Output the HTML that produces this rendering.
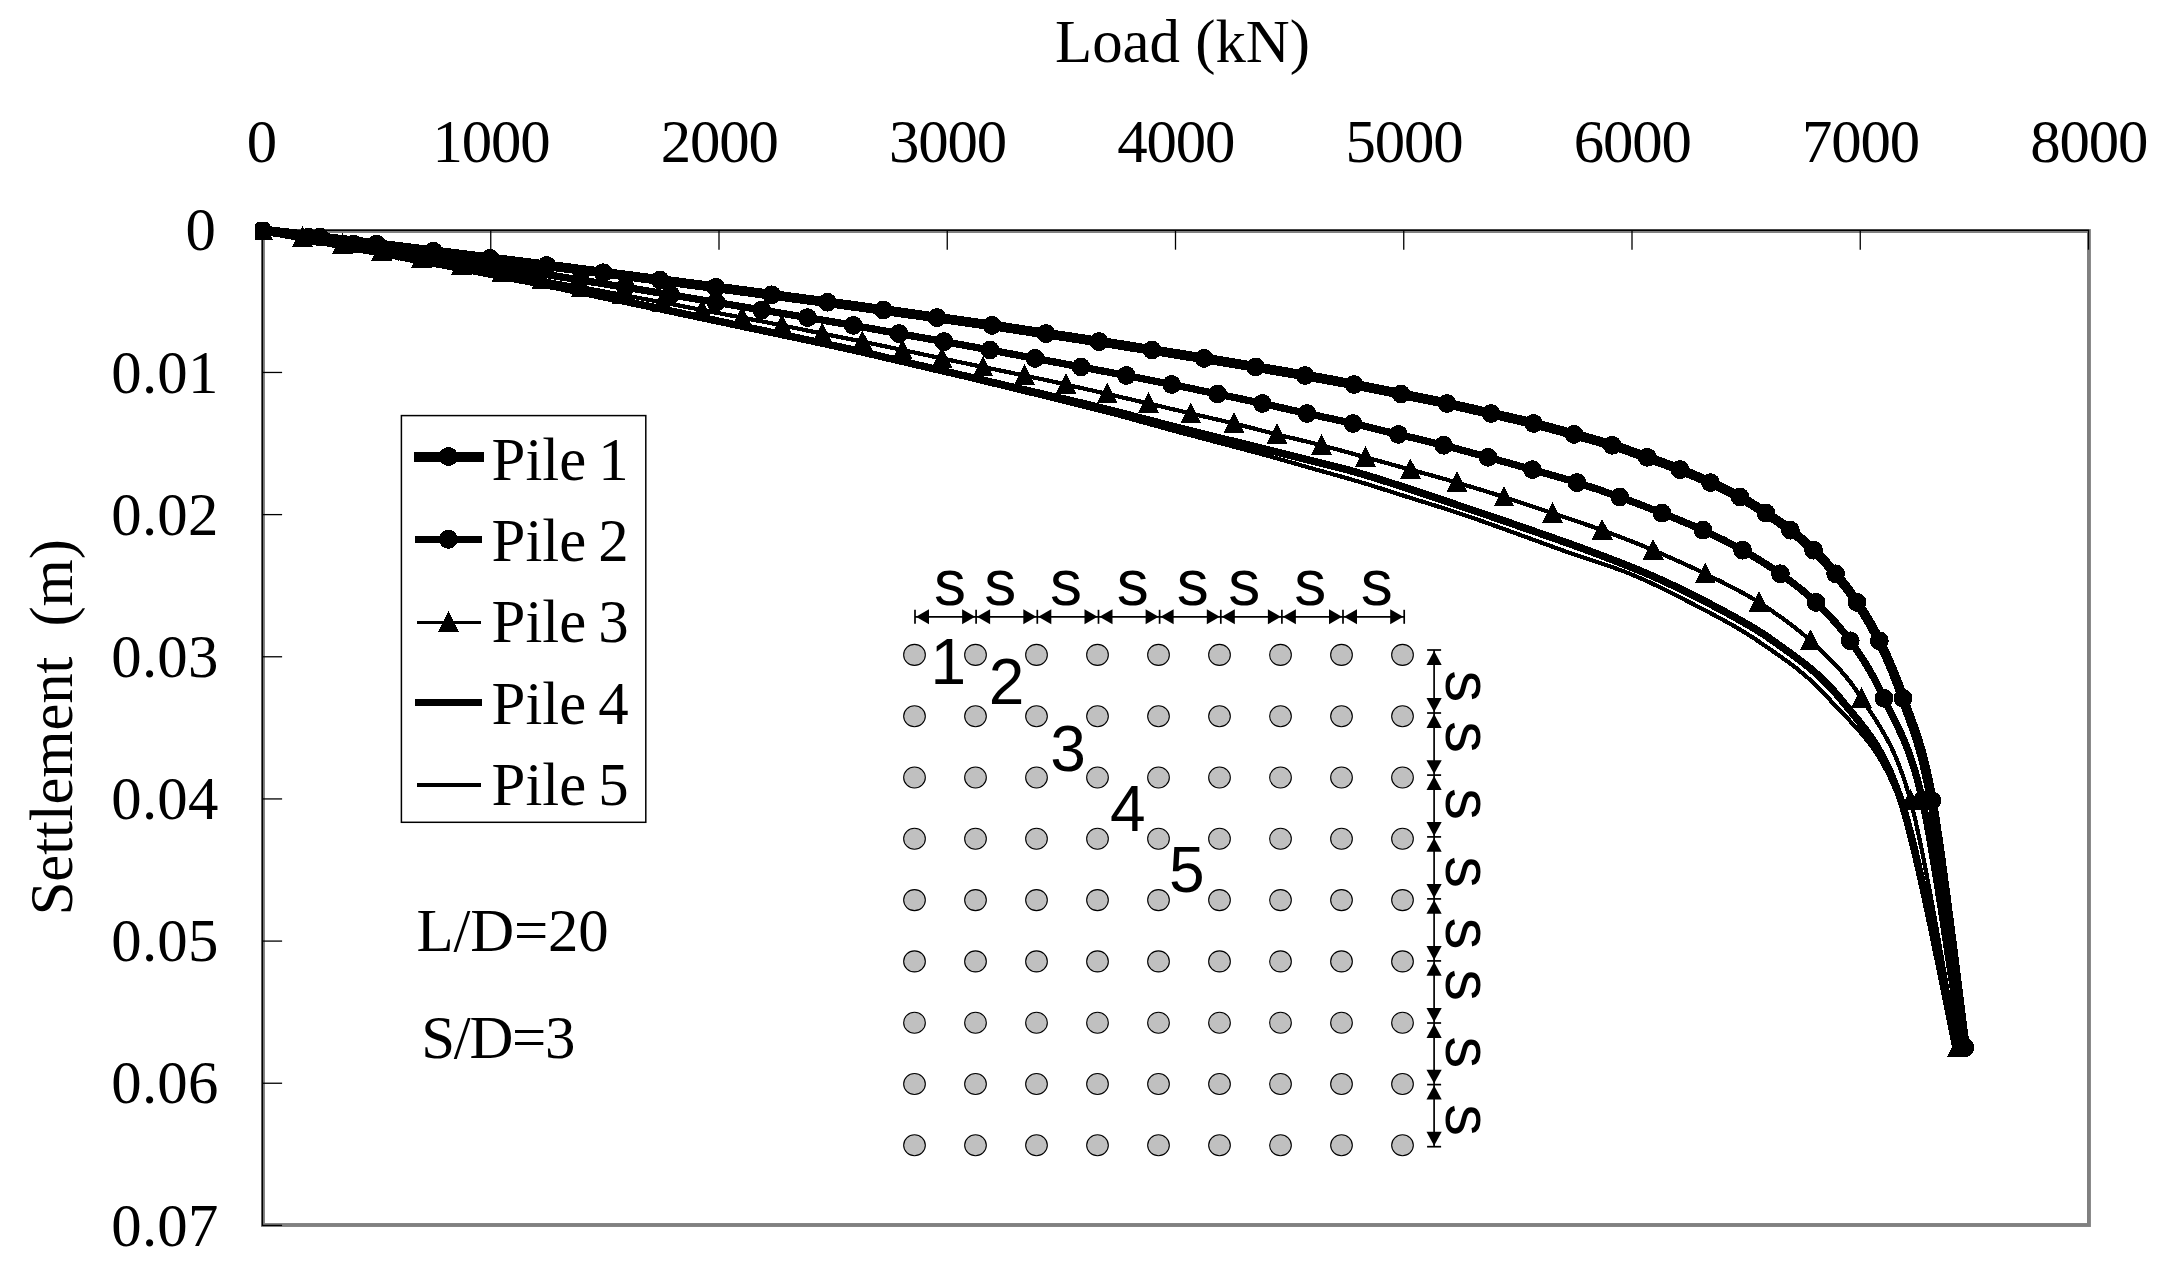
<!DOCTYPE html>
<html lang="en"><head><meta charset="utf-8"><title>Load-settlement curves of piles in a 9x9 group</title>
<style>
html,body{margin:0;padding:0;background:#fff;}
body{width:2160px;height:1271px;overflow:hidden;}
svg{display:block;}
.serif{font-family:"Liberation Serif","Times New Roman",serif;font-size:60.8px;fill:#000;}
.sans{font-family:"Liberation Sans",Arial,sans-serif;font-size:64px;fill:#000;}
</style></head><body>
<svg width="2160" height="1271" viewBox="0 0 2160 1271">
<rect x="0" y="0" width="2160" height="1271" fill="#fff"/>
<g id="frame">
<rect x="263.0" y="231.05" width="1825.95" height="993.95" fill="none" stroke="#808080" stroke-width="3.9"/>
<line x1="261.7" y1="230.25" x2="2089.15" y2="230.25" stroke="#000" stroke-width="1.3"/>
<line x1="262.4" y1="229.6" x2="262.4" y2="1226.05" stroke="#000" stroke-width="1.35"/>
<line x1="490.75" y1="230.25" x2="490.75" y2="249.7" stroke="#000" stroke-width="1.3"/>
<line x1="719.00" y1="230.25" x2="719.00" y2="249.7" stroke="#000" stroke-width="1.3"/>
<line x1="947.25" y1="230.25" x2="947.25" y2="249.7" stroke="#000" stroke-width="1.3"/>
<line x1="1175.50" y1="230.25" x2="1175.50" y2="249.7" stroke="#000" stroke-width="1.3"/>
<line x1="1403.75" y1="230.25" x2="1403.75" y2="249.7" stroke="#000" stroke-width="1.3"/>
<line x1="1632.00" y1="230.25" x2="1632.00" y2="249.7" stroke="#000" stroke-width="1.3"/>
<line x1="1860.25" y1="230.25" x2="1860.25" y2="249.7" stroke="#000" stroke-width="1.3"/>
<line x1="2088.50" y1="230.25" x2="2088.50" y2="249.7" stroke="#000" stroke-width="1.3"/>
<line x1="262.4" y1="372.46" x2="282.1" y2="372.46" stroke="#000" stroke-width="1.3"/>
<line x1="262.4" y1="514.61" x2="282.1" y2="514.61" stroke="#000" stroke-width="1.3"/>
<line x1="262.4" y1="656.77" x2="282.1" y2="656.77" stroke="#000" stroke-width="1.3"/>
<line x1="262.4" y1="798.93" x2="282.1" y2="798.93" stroke="#000" stroke-width="1.3"/>
<line x1="262.4" y1="941.09" x2="282.1" y2="941.09" stroke="#000" stroke-width="1.3"/>
<line x1="262.4" y1="1083.24" x2="282.1" y2="1083.24" stroke="#000" stroke-width="1.3"/>
<line x1="262.4" y1="1225.40" x2="282.1" y2="1225.40" stroke="#000" stroke-width="1.3"/>
</g>
<g id="axis-labels" class="serif">
<text x="1182.5" y="62" text-anchor="middle">Load (kN)</text>
<text x="262.0" y="162.4" text-anchor="middle">0</text>
<text x="491.1" y="162.4" text-anchor="middle" style="letter-spacing:-1.15px">1000</text>
<text x="719.3" y="162.4" text-anchor="middle" style="letter-spacing:-1.15px">2000</text>
<text x="947.5" y="162.4" text-anchor="middle" style="letter-spacing:-1.15px">3000</text>
<text x="1175.8" y="162.4" text-anchor="middle" style="letter-spacing:-1.15px">4000</text>
<text x="1404.0" y="162.4" text-anchor="middle" style="letter-spacing:-1.15px">5000</text>
<text x="1632.3" y="162.4" text-anchor="middle" style="letter-spacing:-1.15px">6000</text>
<text x="1860.5" y="162.4" text-anchor="middle" style="letter-spacing:-1.15px">7000</text>
<text x="2088.8" y="162.4" text-anchor="middle" style="letter-spacing:-1.15px">8000</text>
<text x="216" y="250.0" text-anchor="end">0</text>
<text x="218.5" y="392.7" text-anchor="end" style="letter-spacing:0.2px">0.01</text>
<text x="218.5" y="534.8" text-anchor="end" style="letter-spacing:0.2px">0.02</text>
<text x="218.5" y="677.0" text-anchor="end" style="letter-spacing:0.2px">0.03</text>
<text x="218.5" y="819.1" text-anchor="end" style="letter-spacing:0.2px">0.04</text>
<text x="218.5" y="961.3" text-anchor="end" style="letter-spacing:0.2px">0.05</text>
<text x="218.5" y="1103.4" text-anchor="end" style="letter-spacing:0.2px">0.06</text>
<text x="218.5" y="1245.6" text-anchor="end" style="letter-spacing:0.2px">0.07</text>
<text transform="translate(71.8,915.3) rotate(-90)" style="white-space:pre" textLength="376.3" lengthAdjust="spacing">Settlement  (m)</text>
</g>
<defs><clipPath id="plotclip"><rect x="254.9" y="221.9" width="1842" height="1012"/></clipPath></defs>
<g clip-path="url(#plotclip)">
<g id="series" fill="none" stroke="#000" stroke-linejoin="round" stroke-linecap="butt" shape-rendering="crispEdges">
<path d="M262.5 230.3C272.1 231.4 301.0 234.9 320.0 237.2C339.0 239.5 357.8 241.8 376.7 244.1C395.6 246.5 414.4 248.8 433.3 251.2C452.2 253.5 471.1 255.9 490.0 258.3C508.9 260.6 527.8 263.0 546.7 265.4C565.6 267.8 584.4 270.2 603.3 272.7C622.2 275.1 641.2 277.5 660.0 280.0C678.8 282.4 697.2 284.9 715.8 287.3C734.4 289.8 753.1 292.3 771.7 294.8C790.3 297.3 808.9 299.8 827.5 302.3C846.1 304.8 865.0 307.4 883.3 310.0C901.5 312.6 918.9 315.0 937.0 317.6C955.1 320.2 973.8 322.7 992.0 325.4C1010.2 328.1 1028.2 330.9 1046.0 333.6C1063.8 336.3 1081.3 338.9 1099.0 341.6C1116.7 344.3 1134.5 347.2 1152.0 350.0C1169.5 352.8 1186.7 355.6 1204.0 358.4C1221.3 361.2 1238.8 364.1 1255.6 367.0C1272.4 369.9 1288.6 372.6 1305.0 375.5C1321.4 378.4 1338.0 381.4 1354.0 384.5C1370.0 387.6 1385.5 390.8 1401.0 394.0C1416.5 397.2 1432.0 400.2 1447.0 403.5C1462.0 406.8 1476.6 410.2 1491.0 413.5C1505.4 416.8 1519.8 420.0 1533.6 423.5C1547.4 427.0 1560.9 430.8 1574.0 434.4C1587.1 438.0 1600.0 441.5 1612.2 445.3C1624.4 449.1 1636.0 453.2 1647.3 457.3C1658.6 461.4 1669.5 465.4 1680.0 469.6C1690.5 473.8 1700.5 478.0 1710.5 482.6C1720.5 487.2 1730.8 491.9 1740.0 497.0C1749.2 502.1 1757.6 507.7 1766.0 513.2C1774.4 518.7 1782.5 524.0 1790.4 530.2C1798.3 536.4 1806.1 542.9 1813.6 550.2C1821.1 557.5 1828.4 565.1 1835.6 573.8C1842.8 582.5 1849.7 591.2 1857.0 602.4C1864.3 613.6 1871.6 624.8 1879.3 640.8C1887.0 656.8 1894.2 671.7 1903.0 698.3C1911.8 724.9 1921.5 742.3 1931.8 800.5C1942.1 858.7 1959.5 1006.3 1965.0 1047.5" stroke-width="9.8"/>
<path d="M262.5 230.3C270.1 231.4 293.1 234.9 308.3 237.2C323.5 239.5 338.5 241.8 353.6 244.1C368.7 246.5 383.8 248.8 398.9 251.2C414.0 253.5 429.1 255.9 444.2 258.3C459.3 260.6 474.4 263.0 489.5 265.4C504.6 267.8 519.7 270.2 534.8 272.7C549.9 275.1 565.0 277.5 580.1 280.0C595.2 282.4 610.3 284.9 625.4 287.3C640.5 289.8 655.6 292.3 670.7 294.8C685.8 297.3 700.8 299.8 716.0 302.3C731.2 304.8 746.5 307.4 761.7 310.0C777.0 312.6 792.2 315.0 807.5 317.6C822.8 320.2 838.0 322.7 853.3 325.4C868.5 328.1 883.9 330.9 899.0 333.6C914.1 336.3 928.8 338.9 944.0 341.6C959.2 344.3 974.8 347.2 990.0 350.0C1005.2 352.8 1019.8 355.6 1035.0 358.4C1050.2 361.2 1065.8 364.1 1081.0 367.0C1096.2 369.9 1111.3 372.6 1126.4 375.5C1141.5 378.4 1156.4 381.4 1171.6 384.5C1186.8 387.6 1202.5 390.8 1217.6 394.0C1232.7 397.2 1247.5 400.2 1262.4 403.5C1277.3 406.8 1291.9 410.2 1307.0 413.5C1322.1 416.8 1337.8 420.0 1353.0 423.5C1368.2 427.0 1383.3 430.8 1398.4 434.4C1413.5 438.0 1428.7 441.5 1443.6 445.3C1458.5 449.1 1473.2 453.2 1488.0 457.3C1502.8 461.4 1517.6 465.4 1532.4 469.6C1547.2 473.8 1562.5 478.0 1577.0 482.6C1591.5 487.2 1605.5 491.9 1619.7 497.0C1633.9 502.1 1648.1 507.7 1662.0 513.2C1675.9 518.7 1689.6 524.0 1703.0 530.2C1716.4 536.4 1729.7 542.9 1742.6 550.2C1755.5 557.5 1768.2 565.1 1780.4 573.8C1792.6 582.5 1804.4 591.2 1816.0 602.4C1827.6 613.6 1838.9 624.8 1850.2 640.8C1861.5 656.8 1872.0 671.7 1884.0 698.3C1896.0 724.9 1909.5 742.3 1922.5 800.5C1935.5 858.7 1955.4 1006.3 1962.0 1047.5" stroke-width="7.3"/>
<path d="M262.5 230.3C269.2 231.4 289.2 234.9 302.5 237.2C315.8 239.5 329.3 241.8 342.5 244.1C355.7 246.5 368.5 248.8 381.7 251.2C394.9 253.5 408.4 255.9 421.7 258.3C435.0 260.6 448.4 263.0 461.7 265.4C475.0 267.8 488.4 270.2 501.7 272.7C515.0 275.1 528.4 277.5 541.7 280.0C555.0 282.4 568.4 284.9 581.7 287.3C595.1 289.8 608.4 292.3 621.8 294.8C635.2 297.3 648.5 299.8 661.9 302.3C675.3 304.8 688.6 307.4 702.0 310.0C715.4 312.6 728.7 315.0 742.1 317.6C755.5 320.2 768.8 322.7 782.2 325.4C795.6 328.1 808.9 330.9 822.3 333.6C835.7 336.3 849.0 338.9 862.4 341.6C875.8 344.3 889.2 347.2 902.5 350.0C915.8 352.8 928.6 355.6 942.0 358.4C955.4 361.2 969.3 364.1 983.0 367.0C996.7 369.9 1010.6 372.6 1024.4 375.5C1038.2 378.4 1052.2 381.4 1066.0 384.5C1079.8 387.6 1093.6 390.8 1107.4 394.0C1121.2 397.2 1134.7 400.2 1148.6 403.5C1162.5 406.8 1176.6 410.2 1190.8 413.5C1205.0 416.8 1219.6 420.0 1234.0 423.5C1248.4 427.0 1262.4 430.8 1277.0 434.4C1291.6 438.0 1306.6 441.5 1321.4 445.3C1336.2 449.1 1350.8 453.2 1365.6 457.3C1380.4 461.4 1395.2 465.4 1410.4 469.6C1425.6 473.8 1441.4 478.0 1457.0 482.6C1472.6 487.2 1488.1 491.9 1504.0 497.0C1519.9 502.1 1536.0 507.7 1552.4 513.2C1568.8 518.7 1585.4 524.0 1602.2 530.2C1619.0 536.4 1636.0 542.9 1653.2 550.2C1670.4 557.5 1687.6 565.1 1705.2 573.8C1722.8 582.5 1741.5 591.2 1759.0 602.4C1776.5 613.6 1793.4 624.8 1810.5 640.8C1827.6 656.8 1844.9 671.7 1861.6 698.3C1878.3 724.9 1894.5 742.3 1910.5 800.5C1926.5 858.7 1949.7 1006.3 1957.5 1047.5" stroke-width="4.2"/>
<path d="M262.5 230.3C268.5 231.4 286.3 234.9 298.4 237.2C310.4 239.5 322.4 241.8 334.6 244.1C346.7 246.5 358.9 248.8 371.2 251.2C383.4 253.5 395.7 255.9 408.1 258.3C420.5 260.6 432.9 263.0 445.4 265.4C457.8 267.8 470.4 270.2 483.0 272.7C495.6 275.1 508.3 277.5 521.0 280.0C533.6 282.4 546.6 284.9 558.8 287.3C571.0 289.8 582.4 292.3 594.2 294.8C606.0 297.3 617.7 299.8 629.6 302.3C641.6 304.8 653.9 307.4 665.9 310.0C677.9 312.6 689.5 315.0 701.7 317.6C713.8 320.2 725.9 322.7 738.5 325.4C751.1 328.1 764.5 330.9 777.3 333.6C790.0 336.3 802.4 338.9 815.1 341.6C827.8 344.3 841.1 347.2 853.5 350.0C866.0 352.8 877.4 355.6 889.5 358.4C901.7 361.2 914.2 364.1 926.4 367.0C938.7 369.9 950.4 372.6 962.9 375.5C975.4 378.4 988.3 381.4 1001.5 384.5C1014.8 387.6 1028.7 390.8 1042.3 394.0C1055.9 397.2 1069.5 400.2 1083.1 403.5C1096.6 406.8 1110.2 410.2 1123.3 413.5C1136.5 416.8 1148.3 420.0 1161.9 423.5C1175.6 427.0 1190.7 430.8 1205.3 434.4C1219.8 438.0 1234.1 441.5 1249.5 445.3C1264.8 449.1 1281.4 453.2 1297.6 457.3C1313.8 461.4 1331.4 465.4 1346.7 469.6C1362.1 473.8 1375.3 478.0 1389.8 482.6C1404.2 487.2 1417.9 491.9 1433.2 497.0C1448.5 502.1 1465.3 507.7 1481.6 513.2C1497.9 518.7 1513.3 524.0 1530.9 530.2C1548.5 536.4 1567.8 542.9 1587.1 550.2C1606.5 557.5 1627.2 565.1 1647.2 573.8C1667.2 582.5 1686.1 591.2 1707.1 602.4C1728.1 613.6 1750.9 624.8 1773.0 640.8C1795.2 656.8 1818.7 671.7 1840.0 698.3C1861.3 724.9 1881.7 742.3 1901.0 800.5C1920.3 858.7 1946.8 1006.3 1956.0 1047.5" stroke-width="7.5"/>
<path d="M262.5 230.3C268.5 231.4 286.3 234.9 298.4 237.2C310.4 239.5 322.4 241.8 334.6 244.1C346.7 246.5 358.9 248.8 371.2 251.2C383.4 253.5 395.7 255.9 408.1 258.3C420.5 260.6 432.9 263.0 445.4 265.4C457.8 267.8 470.4 270.2 483.0 272.7C495.6 275.1 508.3 277.5 521.0 280.0C533.6 282.4 546.6 284.9 558.8 287.3C571.0 289.8 582.3 292.3 594.1 294.8C605.8 297.3 617.4 299.8 629.3 302.3C641.2 304.8 653.4 307.4 665.3 310.0C677.3 312.6 688.9 315.0 700.9 317.6C712.9 320.2 724.9 322.7 737.4 325.4C749.8 328.1 763.1 330.9 775.7 333.6C788.3 336.3 800.5 338.9 813.0 341.6C825.6 344.3 839.0 347.2 851.2 350.0C863.4 352.8 874.3 355.6 886.0 358.4C897.7 361.2 909.6 364.1 921.3 367.0C933.0 369.9 944.2 372.6 956.2 375.5C968.1 378.4 980.5 381.4 993.1 384.5C1005.8 387.6 1019.1 390.8 1032.1 394.0C1045.1 397.2 1058.0 400.2 1071.1 403.5C1084.2 406.8 1098.1 410.2 1110.7 413.5C1123.4 416.8 1134.4 420.0 1147.2 423.5C1159.9 427.0 1173.7 430.8 1187.2 434.4C1200.8 438.0 1214.2 441.5 1228.5 445.3C1242.8 449.1 1258.4 453.2 1273.0 457.3C1287.6 461.4 1301.4 465.4 1316.2 469.6C1331.1 473.8 1346.7 478.0 1361.9 482.6C1377.2 487.2 1391.4 491.9 1407.6 497.0C1423.8 502.1 1442.3 507.7 1458.9 513.2C1475.5 518.7 1489.9 524.0 1507.1 530.2C1524.3 536.4 1541.6 542.9 1562.1 550.2C1582.6 557.5 1608.7 565.1 1630.0 573.8C1651.3 582.5 1668.5 591.2 1689.8 602.4C1711.1 613.6 1734.6 624.8 1757.7 640.8C1780.8 656.8 1804.9 671.7 1828.5 698.3C1852.1 724.9 1878.3 742.3 1899.5 800.5C1920.7 858.7 1946.2 1006.3 1955.5 1047.5" stroke-width="4.2"/>
</g>
<g id="markers" fill="#000" stroke="none" shape-rendering="crispEdges">
<circle cx="262.5" cy="230.3" r="9.4"/>
<circle cx="320.0" cy="237.2" r="9.4"/>
<circle cx="376.7" cy="244.1" r="9.4"/>
<circle cx="433.3" cy="251.2" r="9.4"/>
<circle cx="490.0" cy="258.3" r="9.4"/>
<circle cx="546.7" cy="265.4" r="9.4"/>
<circle cx="603.3" cy="272.7" r="9.4"/>
<circle cx="660.0" cy="280.0" r="9.4"/>
<circle cx="715.8" cy="287.3" r="9.4"/>
<circle cx="771.7" cy="294.8" r="9.4"/>
<circle cx="827.5" cy="302.3" r="9.4"/>
<circle cx="883.3" cy="310.0" r="9.4"/>
<circle cx="937.0" cy="317.6" r="9.4"/>
<circle cx="992.0" cy="325.4" r="9.4"/>
<circle cx="1046.0" cy="333.6" r="9.4"/>
<circle cx="1099.0" cy="341.6" r="9.4"/>
<circle cx="1152.0" cy="350.0" r="9.4"/>
<circle cx="1204.0" cy="358.4" r="9.4"/>
<circle cx="1255.6" cy="367.0" r="9.4"/>
<circle cx="1305.0" cy="375.5" r="9.4"/>
<circle cx="1354.0" cy="384.5" r="9.4"/>
<circle cx="1401.0" cy="394.0" r="9.4"/>
<circle cx="1447.0" cy="403.5" r="9.4"/>
<circle cx="1491.0" cy="413.5" r="9.4"/>
<circle cx="1533.6" cy="423.5" r="9.4"/>
<circle cx="1574.0" cy="434.4" r="9.4"/>
<circle cx="1612.2" cy="445.3" r="9.4"/>
<circle cx="1647.3" cy="457.3" r="9.4"/>
<circle cx="1680.0" cy="469.6" r="9.4"/>
<circle cx="1710.5" cy="482.6" r="9.4"/>
<circle cx="1740.0" cy="497.0" r="9.4"/>
<circle cx="1766.0" cy="513.2" r="9.4"/>
<circle cx="1790.4" cy="530.2" r="9.4"/>
<circle cx="1813.6" cy="550.2" r="9.4"/>
<circle cx="1835.6" cy="573.8" r="9.4"/>
<circle cx="1857.0" cy="602.4" r="9.4"/>
<circle cx="1879.3" cy="640.8" r="9.4"/>
<circle cx="1903.0" cy="698.3" r="9.4"/>
<circle cx="1931.8" cy="800.5" r="9.4"/>
<circle cx="1965.0" cy="1047.5" r="9.4"/>
<circle cx="262.5" cy="230.3" r="9.4"/>
<circle cx="308.3" cy="237.2" r="9.4"/>
<circle cx="353.6" cy="244.1" r="9.4"/>
<circle cx="398.9" cy="251.2" r="9.4"/>
<circle cx="444.2" cy="258.3" r="9.4"/>
<circle cx="489.5" cy="265.4" r="9.4"/>
<circle cx="534.8" cy="272.7" r="9.4"/>
<circle cx="580.1" cy="280.0" r="9.4"/>
<circle cx="625.4" cy="287.3" r="9.4"/>
<circle cx="670.7" cy="294.8" r="9.4"/>
<circle cx="716.0" cy="302.3" r="9.4"/>
<circle cx="761.7" cy="310.0" r="9.4"/>
<circle cx="807.5" cy="317.6" r="9.4"/>
<circle cx="853.3" cy="325.4" r="9.4"/>
<circle cx="899.0" cy="333.6" r="9.4"/>
<circle cx="944.0" cy="341.6" r="9.4"/>
<circle cx="990.0" cy="350.0" r="9.4"/>
<circle cx="1035.0" cy="358.4" r="9.4"/>
<circle cx="1081.0" cy="367.0" r="9.4"/>
<circle cx="1126.4" cy="375.5" r="9.4"/>
<circle cx="1171.6" cy="384.5" r="9.4"/>
<circle cx="1217.6" cy="394.0" r="9.4"/>
<circle cx="1262.4" cy="403.5" r="9.4"/>
<circle cx="1307.0" cy="413.5" r="9.4"/>
<circle cx="1353.0" cy="423.5" r="9.4"/>
<circle cx="1398.4" cy="434.4" r="9.4"/>
<circle cx="1443.6" cy="445.3" r="9.4"/>
<circle cx="1488.0" cy="457.3" r="9.4"/>
<circle cx="1532.4" cy="469.6" r="9.4"/>
<circle cx="1577.0" cy="482.6" r="9.4"/>
<circle cx="1619.7" cy="497.0" r="9.4"/>
<circle cx="1662.0" cy="513.2" r="9.4"/>
<circle cx="1703.0" cy="530.2" r="9.4"/>
<circle cx="1742.6" cy="550.2" r="9.4"/>
<circle cx="1780.4" cy="573.8" r="9.4"/>
<circle cx="1816.0" cy="602.4" r="9.4"/>
<circle cx="1850.2" cy="640.8" r="9.4"/>
<circle cx="1884.0" cy="698.3" r="9.4"/>
<circle cx="1922.5" cy="800.5" r="9.4"/>
<circle cx="1962.0" cy="1047.5" r="9.4"/>
<path d="M262.5 219.0L272.9 239.7L252.1 239.7Z"/>
<path d="M302.5 225.9L312.9 246.6L292.1 246.6Z"/>
<path d="M342.5 232.8L352.9 253.5L332.1 253.5Z"/>
<path d="M381.7 239.9L392.1 260.6L371.3 260.6Z"/>
<path d="M421.7 247.0L432.1 267.7L411.3 267.7Z"/>
<path d="M461.7 254.1L472.1 274.8L451.3 274.8Z"/>
<path d="M501.7 261.4L512.1 282.1L491.3 282.1Z"/>
<path d="M541.7 268.7L552.1 289.4L531.3 289.4Z"/>
<path d="M581.7 276.0L592.1 296.7L571.3 296.7Z"/>
<path d="M621.8 283.5L632.2 304.2L611.4 304.2Z"/>
<path d="M661.9 291.0L672.3 311.7L651.5 311.7Z"/>
<path d="M702.0 298.7L712.4 319.4L691.6 319.4Z"/>
<path d="M742.1 306.3L752.5 327.0L731.7 327.0Z"/>
<path d="M782.2 314.1L792.6 334.8L771.8 334.8Z"/>
<path d="M822.3 322.3L832.7 343.0L811.9 343.0Z"/>
<path d="M862.4 330.3L872.8 351.0L852.0 351.0Z"/>
<path d="M902.5 338.7L912.9 359.4L892.1 359.4Z"/>
<path d="M942.0 347.1L952.4 367.8L931.6 367.8Z"/>
<path d="M983.0 355.7L993.4 376.4L972.6 376.4Z"/>
<path d="M1024.4 364.2L1034.8 384.9L1014.0 384.9Z"/>
<path d="M1066.0 373.2L1076.4 393.9L1055.6 393.9Z"/>
<path d="M1107.4 382.7L1117.8 403.4L1097.0 403.4Z"/>
<path d="M1148.6 392.2L1159.0 412.9L1138.2 412.9Z"/>
<path d="M1190.8 402.2L1201.2 422.9L1180.4 422.9Z"/>
<path d="M1234.0 412.2L1244.4 432.9L1223.6 432.9Z"/>
<path d="M1277.0 423.1L1287.4 443.8L1266.6 443.8Z"/>
<path d="M1321.4 434.0L1331.8 454.7L1311.0 454.7Z"/>
<path d="M1365.6 446.0L1376.0 466.7L1355.2 466.7Z"/>
<path d="M1410.4 458.3L1420.8 479.0L1400.0 479.0Z"/>
<path d="M1457.0 471.3L1467.4 492.0L1446.6 492.0Z"/>
<path d="M1504.0 485.7L1514.4 506.4L1493.6 506.4Z"/>
<path d="M1552.4 501.9L1562.8 522.6L1542.0 522.6Z"/>
<path d="M1602.2 518.9L1612.6 539.6L1591.8 539.6Z"/>
<path d="M1653.2 538.9L1663.6 559.6L1642.8 559.6Z"/>
<path d="M1705.2 562.5L1715.6 583.2L1694.8 583.2Z"/>
<path d="M1759.0 591.1L1769.4 611.8L1748.6 611.8Z"/>
<path d="M1810.5 629.5L1820.9 650.2L1800.1 650.2Z"/>
<path d="M1861.6 687.0L1872.0 707.7L1851.2 707.7Z"/>
<path d="M1910.5 789.2L1920.9 809.9L1900.1 809.9Z"/>
<path d="M1957.5 1036.2L1967.9 1056.9L1947.1 1056.9Z"/>
</g>
</g>
<g id="legend">
<rect x="401.4" y="415.6" width="244.4" height="406.7" fill="#fff" stroke="#000" stroke-width="1.5"/>
<g stroke="#000" fill="#000" shape-rendering="crispEdges">
<line x1="414.1" y1="456.8" x2="483.9" y2="456.8" stroke-width="10.4"/>
<circle cx="448.4" cy="456.5" r="9.5" stroke="none"/>
<line x1="415" y1="539.5" x2="481.8" y2="539.5" stroke-width="7.3"/>
<circle cx="448.4" cy="539.3" r="9.5" stroke="none"/>
<line x1="416.8" y1="622.5" x2="480.8" y2="622.5" stroke-width="3.5"/>
<path d="M448.5 611.1L459.1 631.7L438.1 631.7Z" stroke="none"/>
<line x1="415.2" y1="702.2" x2="481.8" y2="702.2" stroke-width="7.2"/>
<line x1="416.8" y1="785" x2="480.8" y2="785" stroke-width="3.8"/>
</g>
<g class="serif">
<text x="491.6" y="480" style="word-spacing:-3.2px">Pile 1</text>
<text x="491.6" y="561" style="word-spacing:-3.2px">Pile 2</text>
<text x="491.6" y="641.6" style="word-spacing:-3.2px">Pile 3</text>
<text x="491.6" y="723.8" style="word-spacing:-3.2px">Pile 4</text>
<text x="491.6" y="804.5" style="word-spacing:-3.2px">Pile 5</text>
</g></g>
<g id="notes" class="serif">
<text x="416.4" y="950.6" textLength="192.3" lengthAdjust="spacing">L/D=20</text>
<text x="421.2" y="1058.2" textLength="154.3" lengthAdjust="spacing">S/D=3</text>
</g>
<g id="pile-group">
<g fill="#c0c0c0" stroke="#000" stroke-width="1.1">
<ellipse cx="914.5" cy="654.9" rx="10.85" ry="10.5"/>
<ellipse cx="975.5" cy="654.9" rx="10.85" ry="10.5"/>
<ellipse cx="1036.5" cy="654.9" rx="10.85" ry="10.5"/>
<ellipse cx="1097.5" cy="654.9" rx="10.85" ry="10.5"/>
<ellipse cx="1158.5" cy="654.9" rx="10.85" ry="10.5"/>
<ellipse cx="1219.5" cy="654.9" rx="10.85" ry="10.5"/>
<ellipse cx="1280.5" cy="654.9" rx="10.85" ry="10.5"/>
<ellipse cx="1341.5" cy="654.9" rx="10.85" ry="10.5"/>
<ellipse cx="1402.5" cy="654.9" rx="10.85" ry="10.5"/>
<ellipse cx="914.5" cy="716.2" rx="10.85" ry="10.5"/>
<ellipse cx="975.5" cy="716.2" rx="10.85" ry="10.5"/>
<ellipse cx="1036.5" cy="716.2" rx="10.85" ry="10.5"/>
<ellipse cx="1097.5" cy="716.2" rx="10.85" ry="10.5"/>
<ellipse cx="1158.5" cy="716.2" rx="10.85" ry="10.5"/>
<ellipse cx="1219.5" cy="716.2" rx="10.85" ry="10.5"/>
<ellipse cx="1280.5" cy="716.2" rx="10.85" ry="10.5"/>
<ellipse cx="1341.5" cy="716.2" rx="10.85" ry="10.5"/>
<ellipse cx="1402.5" cy="716.2" rx="10.85" ry="10.5"/>
<ellipse cx="914.5" cy="777.5" rx="10.85" ry="10.5"/>
<ellipse cx="975.5" cy="777.5" rx="10.85" ry="10.5"/>
<ellipse cx="1036.5" cy="777.5" rx="10.85" ry="10.5"/>
<ellipse cx="1097.5" cy="777.5" rx="10.85" ry="10.5"/>
<ellipse cx="1158.5" cy="777.5" rx="10.85" ry="10.5"/>
<ellipse cx="1219.5" cy="777.5" rx="10.85" ry="10.5"/>
<ellipse cx="1280.5" cy="777.5" rx="10.85" ry="10.5"/>
<ellipse cx="1341.5" cy="777.5" rx="10.85" ry="10.5"/>
<ellipse cx="1402.5" cy="777.5" rx="10.85" ry="10.5"/>
<ellipse cx="914.5" cy="838.8" rx="10.85" ry="10.5"/>
<ellipse cx="975.5" cy="838.8" rx="10.85" ry="10.5"/>
<ellipse cx="1036.5" cy="838.8" rx="10.85" ry="10.5"/>
<ellipse cx="1097.5" cy="838.8" rx="10.85" ry="10.5"/>
<ellipse cx="1158.5" cy="838.8" rx="10.85" ry="10.5"/>
<ellipse cx="1219.5" cy="838.8" rx="10.85" ry="10.5"/>
<ellipse cx="1280.5" cy="838.8" rx="10.85" ry="10.5"/>
<ellipse cx="1341.5" cy="838.8" rx="10.85" ry="10.5"/>
<ellipse cx="1402.5" cy="838.8" rx="10.85" ry="10.5"/>
<ellipse cx="914.5" cy="900.1" rx="10.85" ry="10.5"/>
<ellipse cx="975.5" cy="900.1" rx="10.85" ry="10.5"/>
<ellipse cx="1036.5" cy="900.1" rx="10.85" ry="10.5"/>
<ellipse cx="1097.5" cy="900.1" rx="10.85" ry="10.5"/>
<ellipse cx="1158.5" cy="900.1" rx="10.85" ry="10.5"/>
<ellipse cx="1219.5" cy="900.1" rx="10.85" ry="10.5"/>
<ellipse cx="1280.5" cy="900.1" rx="10.85" ry="10.5"/>
<ellipse cx="1341.5" cy="900.1" rx="10.85" ry="10.5"/>
<ellipse cx="1402.5" cy="900.1" rx="10.85" ry="10.5"/>
<ellipse cx="914.5" cy="961.4" rx="10.85" ry="10.5"/>
<ellipse cx="975.5" cy="961.4" rx="10.85" ry="10.5"/>
<ellipse cx="1036.5" cy="961.4" rx="10.85" ry="10.5"/>
<ellipse cx="1097.5" cy="961.4" rx="10.85" ry="10.5"/>
<ellipse cx="1158.5" cy="961.4" rx="10.85" ry="10.5"/>
<ellipse cx="1219.5" cy="961.4" rx="10.85" ry="10.5"/>
<ellipse cx="1280.5" cy="961.4" rx="10.85" ry="10.5"/>
<ellipse cx="1341.5" cy="961.4" rx="10.85" ry="10.5"/>
<ellipse cx="1402.5" cy="961.4" rx="10.85" ry="10.5"/>
<ellipse cx="914.5" cy="1022.7" rx="10.85" ry="10.5"/>
<ellipse cx="975.5" cy="1022.7" rx="10.85" ry="10.5"/>
<ellipse cx="1036.5" cy="1022.7" rx="10.85" ry="10.5"/>
<ellipse cx="1097.5" cy="1022.7" rx="10.85" ry="10.5"/>
<ellipse cx="1158.5" cy="1022.7" rx="10.85" ry="10.5"/>
<ellipse cx="1219.5" cy="1022.7" rx="10.85" ry="10.5"/>
<ellipse cx="1280.5" cy="1022.7" rx="10.85" ry="10.5"/>
<ellipse cx="1341.5" cy="1022.7" rx="10.85" ry="10.5"/>
<ellipse cx="1402.5" cy="1022.7" rx="10.85" ry="10.5"/>
<ellipse cx="914.5" cy="1084.0" rx="10.85" ry="10.5"/>
<ellipse cx="975.5" cy="1084.0" rx="10.85" ry="10.5"/>
<ellipse cx="1036.5" cy="1084.0" rx="10.85" ry="10.5"/>
<ellipse cx="1097.5" cy="1084.0" rx="10.85" ry="10.5"/>
<ellipse cx="1158.5" cy="1084.0" rx="10.85" ry="10.5"/>
<ellipse cx="1219.5" cy="1084.0" rx="10.85" ry="10.5"/>
<ellipse cx="1280.5" cy="1084.0" rx="10.85" ry="10.5"/>
<ellipse cx="1341.5" cy="1084.0" rx="10.85" ry="10.5"/>
<ellipse cx="1402.5" cy="1084.0" rx="10.85" ry="10.5"/>
<ellipse cx="914.5" cy="1145.3" rx="10.85" ry="10.5"/>
<ellipse cx="975.5" cy="1145.3" rx="10.85" ry="10.5"/>
<ellipse cx="1036.5" cy="1145.3" rx="10.85" ry="10.5"/>
<ellipse cx="1097.5" cy="1145.3" rx="10.85" ry="10.5"/>
<ellipse cx="1158.5" cy="1145.3" rx="10.85" ry="10.5"/>
<ellipse cx="1219.5" cy="1145.3" rx="10.85" ry="10.5"/>
<ellipse cx="1280.5" cy="1145.3" rx="10.85" ry="10.5"/>
<ellipse cx="1341.5" cy="1145.3" rx="10.85" ry="10.5"/>
<ellipse cx="1402.5" cy="1145.3" rx="10.85" ry="10.5"/>
</g>
<g stroke="#000" stroke-width="1.7" fill="#000">
<line x1="915.0" y1="616.8" x2="1404.2" y2="616.8"/>
<line x1="915.0" y1="609.8" x2="915.0" y2="623.8"/>
<line x1="976.1" y1="609.8" x2="976.1" y2="623.8"/>
<line x1="1037.3" y1="609.8" x2="1037.3" y2="623.8"/>
<line x1="1098.5" y1="609.8" x2="1098.5" y2="623.8"/>
<line x1="1159.6" y1="609.8" x2="1159.6" y2="623.8"/>
<line x1="1220.8" y1="609.8" x2="1220.8" y2="623.8"/>
<line x1="1281.9" y1="609.8" x2="1281.9" y2="623.8"/>
<line x1="1343.0" y1="609.8" x2="1343.0" y2="623.8"/>
<line x1="1404.2" y1="609.8" x2="1404.2" y2="623.8"/>
<path d="M916.0 616.8L929.0 609.3L929.0 624.3Z" stroke="none"/>
<path d="M975.1 616.8L962.1 609.3L962.1 624.3Z" stroke="none"/>
<path d="M977.1 616.8L990.1 609.3L990.1 624.3Z" stroke="none"/>
<path d="M1036.3 616.8L1023.3 609.3L1023.3 624.3Z" stroke="none"/>
<path d="M1038.3 616.8L1051.3 609.3L1051.3 624.3Z" stroke="none"/>
<path d="M1097.5 616.8L1084.5 609.3L1084.5 624.3Z" stroke="none"/>
<path d="M1099.5 616.8L1112.5 609.3L1112.5 624.3Z" stroke="none"/>
<path d="M1158.6 616.8L1145.6 609.3L1145.6 624.3Z" stroke="none"/>
<path d="M1160.6 616.8L1173.6 609.3L1173.6 624.3Z" stroke="none"/>
<path d="M1219.8 616.8L1206.8 609.3L1206.8 624.3Z" stroke="none"/>
<path d="M1221.8 616.8L1234.8 609.3L1234.8 624.3Z" stroke="none"/>
<path d="M1280.9 616.8L1267.9 609.3L1267.9 624.3Z" stroke="none"/>
<path d="M1282.9 616.8L1295.9 609.3L1295.9 624.3Z" stroke="none"/>
<path d="M1342.0 616.8L1329.0 609.3L1329.0 624.3Z" stroke="none"/>
<path d="M1344.0 616.8L1357.0 609.3L1357.0 624.3Z" stroke="none"/>
<path d="M1403.2 616.8L1390.2 609.3L1390.2 624.3Z" stroke="none"/>
<line x1="1434.1" y1="650.0" x2="1434.1" y2="1146.7"/>
<line x1="1427.1" y1="650.0" x2="1441.1" y2="650.0"/>
<line x1="1427.1" y1="713.0" x2="1441.1" y2="713.0"/>
<line x1="1427.1" y1="775.1" x2="1441.1" y2="775.1"/>
<line x1="1427.1" y1="836.9" x2="1441.1" y2="836.9"/>
<line x1="1427.1" y1="898.9" x2="1441.1" y2="898.9"/>
<line x1="1427.1" y1="960.9" x2="1441.1" y2="960.9"/>
<line x1="1427.1" y1="1023.0" x2="1441.1" y2="1023.0"/>
<line x1="1427.1" y1="1084.6" x2="1441.1" y2="1084.6"/>
<line x1="1427.1" y1="1146.7" x2="1441.1" y2="1146.7"/>
<path d="M1434.1 651.0L1426.5 664.9L1441.7 664.9Z" stroke="none"/>
<path d="M1434.1 712.0L1426.5 698.1L1441.7 698.1Z" stroke="none"/>
<path d="M1434.1 714.0L1426.5 727.9L1441.7 727.9Z" stroke="none"/>
<path d="M1434.1 774.1L1426.5 760.2L1441.7 760.2Z" stroke="none"/>
<path d="M1434.1 776.1L1426.5 790.0L1441.7 790.0Z" stroke="none"/>
<path d="M1434.1 835.9L1426.5 822.0L1441.7 822.0Z" stroke="none"/>
<path d="M1434.1 837.9L1426.5 851.8L1441.7 851.8Z" stroke="none"/>
<path d="M1434.1 897.9L1426.5 884.0L1441.7 884.0Z" stroke="none"/>
<path d="M1434.1 899.9L1426.5 913.8L1441.7 913.8Z" stroke="none"/>
<path d="M1434.1 959.9L1426.5 946.0L1441.7 946.0Z" stroke="none"/>
<path d="M1434.1 961.9L1426.5 975.8L1441.7 975.8Z" stroke="none"/>
<path d="M1434.1 1022.0L1426.5 1008.1L1441.7 1008.1Z" stroke="none"/>
<path d="M1434.1 1024.0L1426.5 1037.9L1441.7 1037.9Z" stroke="none"/>
<path d="M1434.1 1083.6L1426.5 1069.7L1441.7 1069.7Z" stroke="none"/>
<path d="M1434.1 1085.6L1426.5 1099.5L1441.7 1099.5Z" stroke="none"/>
<path d="M1434.1 1145.7L1426.5 1131.8L1441.7 1131.8Z" stroke="none"/>
</g>
<g class="sans" text-anchor="middle">
<text x="950" y="605">s</text>
<text x="1000.2" y="605">s</text>
<text x="1066" y="605">s</text>
<text x="1132.7" y="605">s</text>
<text x="1192.7" y="605">s</text>
<text x="1244.3" y="605">s</text>
<text x="1310.2" y="605">s</text>
<text x="1376.8" y="605">s</text>
<text transform="translate(1445.6,686.3) rotate(90)">s</text>
<text transform="translate(1445.6,737) rotate(90)">s</text>
<text transform="translate(1445.6,804) rotate(90)">s</text>
<text transform="translate(1445.6,872) rotate(90)">s</text>
<text transform="translate(1445.6,933.6) rotate(90)">s</text>
<text transform="translate(1445.6,985) rotate(90)">s</text>
<text transform="translate(1445.6,1052.3) rotate(90)">s</text>
<text transform="translate(1445.6,1120) rotate(90)">s</text>
<text x="948.4" y="684.2">1</text>
<text x="1006.6" y="704.3">2</text>
<text x="1068" y="770.5">3</text>
<text x="1127.9" y="830.8">4</text>
<text x="1186.9" y="892">5</text>
</g></g>
</svg></body></html>
